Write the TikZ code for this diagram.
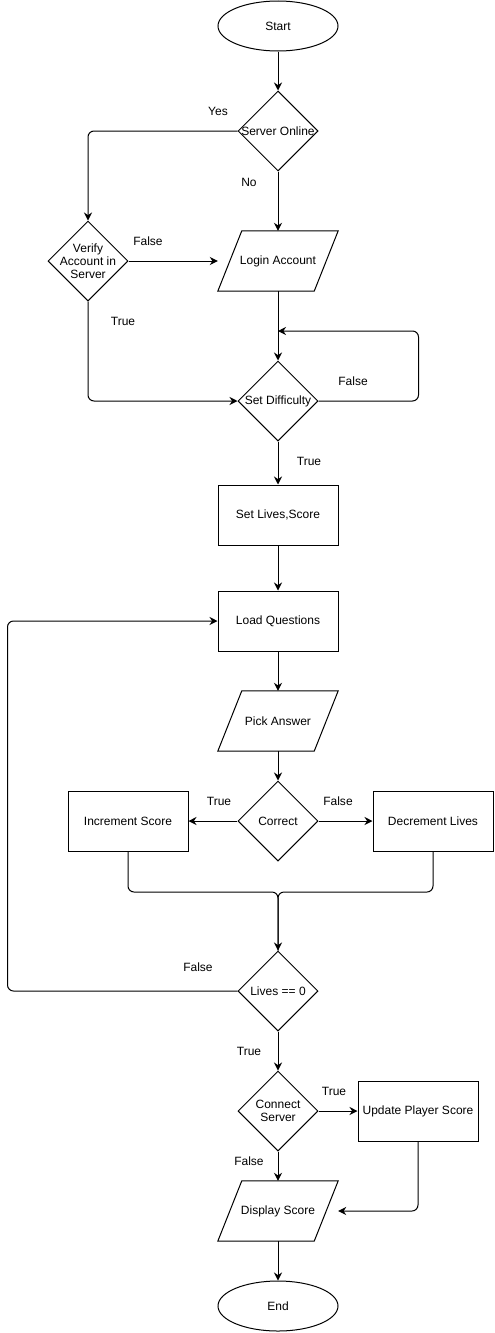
\documentclass[tikz,border=0pt]{standalone}
\usepackage{fontspec}
\setmainfont{Liberation Sans}
\usetikzlibrary{shapes.geometric,arrows.meta,calc}
\newcommand{\iopath}[1]{\draw[line width=1pt] ($(#1.north west)+(24pt,0)$) -- (#1.north east) -- ($(#1.south east)+(-24pt,0)$) -- (#1.south west) -- cycle;}
\begin{document}
\begin{tikzpicture}[x=1pt,y=-1pt,
  every node/.style={font=\fontsize{12}{14}\selectfont},
  box/.style={draw, line width=1pt, minimum width=120pt, minimum height=60pt, inner sep=0pt, align=center},
  io/.style={minimum width=120pt, minimum height=60pt, inner sep=0pt, align=center},
  dec/.style={diamond, draw, line width=1pt, minimum width=80pt, minimum height=80pt, inner sep=0pt, aspect=1},
  term/.style={ellipse, draw, line width=1pt, minimum width=120pt, minimum height=50pt, inner sep=0pt},
  lbl/.style={inner sep=0pt},
  arr/.style={line width=1pt, -{Stealth[length=8pt,width=8pt]}},
  rc/.style={rounded corners=6pt}]
\fill[white] (0,0) rectangle (495,1333);
\useasboundingbox (0,0) rectangle (495,1333);

\node[term] (start) at (278,26) {Start};
\node[dec, label={center:Server Online}] (so) at (278,131) {};
\node[dec, label={[align=center,font=\fontsize{12}{13}\selectfont]center:Verify\\Account in\\Server}] (ver) at (88,261) {};
\node[io] (login) at (278,261) {Login Account}; \iopath{login}
\node[dec, label={center:Set Difficulty}] (sd) at (278,401) {};
\coordinate (fb) at (278,331);
\node[box] (lives) at (278,515) {Set Lives,Score};
\node[box] (lq) at (278,621) {Load Questions};
\node[io] (pick) at (278,721) {Pick Answer}; \iopath{pick}
\node[dec, label={center:Correct}] (corr) at (278,821) {};
\node[box] (inc) at (128,821) {Increment Score};
\node[box] (decl) at (433,821) {Decrement Lives};
\coordinate (mrg) at (278,892);
\node[dec, label={center:Lives == 0}] (l0) at (278,991) {};
\node[dec, label={[align=center,font=\fontsize{12}{13}\selectfont]center:Connect\\Server}] (cs) at (278,1111) {};
\node[box] (ups) at (418,1111) {Update Player Score};
\node[io] (disp) at (278,1211) {Display Score}; \iopath{disp}
\node[term] (end) at (278,1306) {End};

\draw[arr] (start) -- (so);
\draw[arr,rc] (so.west) -| (ver.north);
\draw[arr] (so) -- (login.north);
\draw[arr] (ver.east) -- (login.west);
\draw[arr] (login.south) -- (sd);
\draw[arr,rc] (ver.south) |- (sd.west);
\draw[arr,rc] (sd.east) -- ++(100,0) |- (fb);
\draw[arr] (sd) -- (lives);
\draw[arr] (lives) -- (lq);
\draw[arr] (lq) -- (pick.north);
\draw[arr] (pick.south) -- (corr);
\draw[arr] (corr) -- (inc);
\draw[arr] (corr) -- (decl);
\draw[line width=1pt,rc] (decl.south) |- (mrg) -- (l0.north);
\draw[arr,rc] (inc.south) |- (mrg) -- (l0);
\draw[arr,rc] (l0.west) -- ++(-230,0) |- (lq.west);
\draw[arr] (l0) -- (cs);
\draw[arr] (cs) -- (ups);
\draw[arr] (cs) -- (disp.north);
\draw[arr,rc] (ups.south) |- (disp.east);
\draw[arr] (disp.south) -- (end);

\node[lbl] at (218,111) {Yes};
\node[lbl] at (249,182) {No};
\node[lbl] at (148,241) {False};
\node[lbl] at (123,321) {True};
\node[lbl] at (353,381) {False};
\node[lbl] at (309,461) {True};
\node[lbl] at (219,801) {True};
\node[lbl] at (338,801) {False};
\node[lbl] at (198,967) {False};
\node[lbl] at (249,1051) {True};
\node[lbl] at (334,1091) {True};
\node[lbl] at (249,1161) {False};
\end{tikzpicture}
\end{document}
